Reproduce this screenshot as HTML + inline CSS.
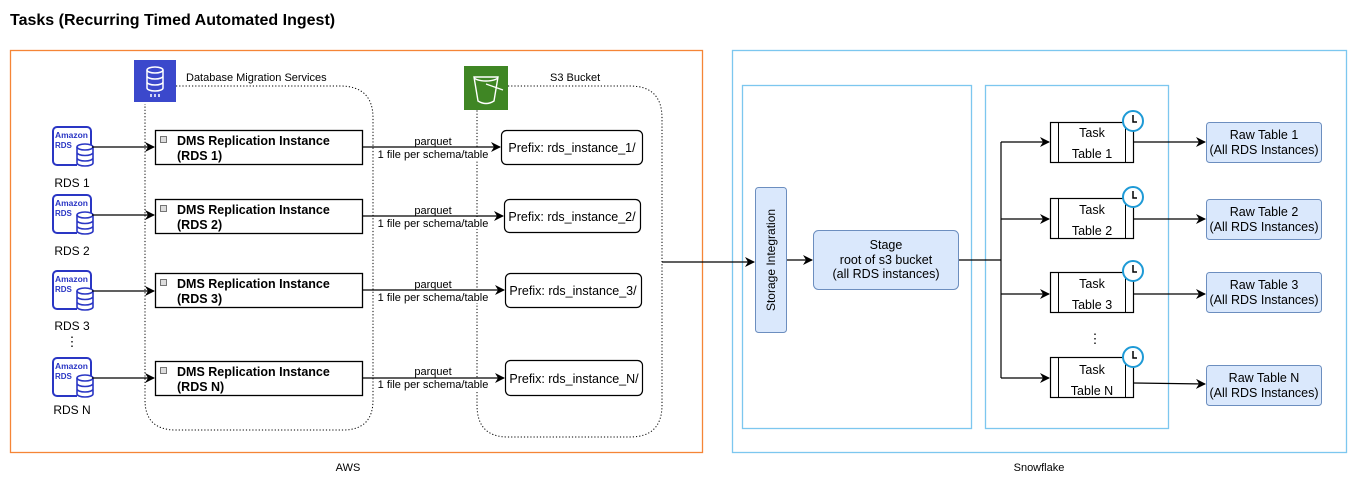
<!DOCTYPE html>
<html><head><meta charset="utf-8"><style>
html,body{margin:0;padding:0;background:#fff;}
svg{display:block;font-family:"Liberation Sans",Arial,sans-serif;}
</style></head><body>
<svg width="1358" height="482" viewBox="0 0 1358 482" xmlns="http://www.w3.org/2000/svg">
<defs>
<marker id="ar" markerWidth="10" markerHeight="10" refX="9" refY="5" orient="auto" markerUnits="userSpaceOnUse">
<path d="M0,0 L10,5 L0,10 L3,5 Z" fill="#000"/></marker>
<g id="rds">
<rect x="1" y="1" width="38" height="38" rx="4" fill="#fff" stroke="#2a36c4" stroke-width="2"/>
<text x="3" y="12" font-size="8" font-weight="bold" fill="#2a36c4" textLength="33" lengthAdjust="spacingAndGlyphs">Amazon</text>
<text x="3" y="22" font-size="8" font-weight="bold" fill="#2a36c4">RDS</text>
<rect x="25" y="19" width="16" height="22" fill="#fff"/>
<ellipse cx="33" cy="21" rx="8" ry="3" fill="#fff" stroke="#2a36c4" stroke-width="1.6"/>
<path d="M25,21 V37 A8,3 0 0 0 41,37 V21 M25,26.5 A8,3 0 0 0 41,26.5 M25,32 A8,3 0 0 0 41,32" fill="none" stroke="#2a36c4" stroke-width="1.6"/>
</g>
<g id="clk">
<circle r="10" fill="#fff" stroke="#1e9ad6" stroke-width="2"/>
<path d="M0,-6 V1 H4" fill="none" stroke="#000" stroke-width="1.5"/>
</g>
<g id="task">
<rect x="0" y="0" width="83" height="40" fill="#fff" stroke="#000" stroke-width="1.2"/>
<line x1="8" y1="0" x2="8" y2="40" stroke="#000"/>
<line x1="75" y1="0" x2="75" y2="40" stroke="#000"/>
</g>
</defs>

<text x="10" y="25" font-size="16" font-weight="bold">Tasks (Recurring Timed Automated Ingest)</text>

<rect x="10.5" y="50.5" width="692" height="402" fill="none" stroke="#f58536" stroke-width="1.3"/>
<text x="348" y="471" font-size="11" text-anchor="middle">AWS</text>
<rect x="732.5" y="50.5" width="614" height="402" fill="none" stroke="#7cc7ef" stroke-width="1.3"/>
<text x="1039" y="471" font-size="11" text-anchor="middle">Snowflake</text>
<rect x="742.5" y="85.5" width="229" height="343" fill="none" stroke="#7cc7ef" stroke-width="1.3"/>
<rect x="985.5" y="85.5" width="183" height="343" fill="none" stroke="#7cc7ef" stroke-width="1.3"/>

<path d="M176,86 H340 Q373,86 373,118 V400 Q373,430 343,430 H176 Q145,430 145,400 V104" fill="none" stroke="#000" stroke-dasharray="1.2,2"/>
<rect x="134" y="60" width="42" height="42" fill="#3b48cc"/>
<g fill="none" stroke="#fff" stroke-width="1.5">
<ellipse cx="155" cy="70" rx="8" ry="3"/>
<path d="M147,70 V88 A8,3 0 0 0 163,88 V70 M147,76 A8,3 0 0 0 163,76 M147,82 A8,3 0 0 0 163,82 M151,94 V97 M155,94 V97 M159,94 V97"/>
</g>
<text x="186" y="81" font-size="11">Database Migration Services</text>

<path d="M508,86 H630 Q662,86 662,118 V405 Q662,437 630,437 H508 Q477,437 477,405 V110" fill="none" stroke="#000" stroke-dasharray="1.2,2"/>
<rect x="464" y="66" width="44" height="44" fill="#3f8624"/>
<path d="M474,77 L478,101 Q486,106 494,101 L498,77 Z M474,77 A12,4 0 0 0 498,77" fill="none" stroke="#fff" stroke-width="1.4"/>
<path d="M486,84 L503,90" stroke="#fff" stroke-width="1.2"/>
<text x="550" y="81" font-size="11">S3 Bucket</text>

<g font-size="12">
<use href="#rds" x="52" y="126"/><text x="72" y="187" text-anchor="middle">RDS 1</text>
<use href="#rds" x="52" y="194"/><text x="72" y="255" text-anchor="middle">RDS 2</text>
<use href="#rds" x="52" y="270"/><text x="72" y="330" text-anchor="middle">RDS 3</text>
<text x="72" y="346" text-anchor="middle" font-size="13">⋮</text>
<use href="#rds" x="52" y="357"/><text x="72" y="414" text-anchor="middle">RDS N</text>
</g>
<g stroke="#000" stroke-width="1.2" marker-end="url(#ar)">
<line x1="92" y1="147" x2="154" y2="147"/>
<line x1="92" y1="215" x2="154" y2="215"/>
<line x1="92" y1="291" x2="154" y2="291"/>
<line x1="92" y1="378" x2="154" y2="378"/>
<line x1="362" y1="147" x2="500" y2="147"/>
<line x1="362" y1="216" x2="503" y2="216"/>
<line x1="362" y1="290" x2="504" y2="290"/>
<line x1="362" y1="378" x2="504" y2="378"/>
</g>
<g>
<rect x="155.5" y="130.5" width="207" height="34" fill="#fff" stroke="#000" stroke-width="1.3"/>
<rect x="155.5" y="199.5" width="207" height="34" fill="#fff" stroke="#000" stroke-width="1.3"/>
<rect x="155.5" y="273.5" width="207" height="34" fill="#fff" stroke="#000" stroke-width="1.3"/>
<rect x="155.5" y="361.5" width="207" height="34" fill="#fff" stroke="#000" stroke-width="1.3"/>
</g>
<g font-size="12.5" font-weight="bold">
<text x="177" y="145">DMS Replication Instance</text><text x="177" y="160">(RDS 1)</text>
<text x="177" y="214">DMS Replication Instance</text><text x="177" y="229">(RDS 2)</text>
<text x="177" y="288">DMS Replication Instance</text><text x="177" y="303">(RDS 3)</text>
<text x="177" y="376">DMS Replication Instance</text><text x="177" y="391">(RDS N)</text>
</g>
<g fill="#ddd" stroke="#555" stroke-width="0.8">
<rect x="160.5" y="136.5" width="6" height="6"/><rect x="160.5" y="205.5" width="6" height="6"/>
<rect x="160.5" y="279.5" width="6" height="6"/><rect x="160.5" y="367.5" width="6" height="6"/>
</g>
<g font-size="11" text-anchor="middle">
<rect x="376" y="148" width="114" height="12" fill="#fff"/>
<rect x="376" y="217" width="114" height="12" fill="#fff"/>
<rect x="376" y="291" width="114" height="12" fill="#fff"/>
<rect x="376" y="379" width="114" height="12" fill="#fff"/>
<text x="433" y="145">parquet</text><text x="433" y="158">1 file per schema/table</text>
<text x="433" y="214">parquet</text><text x="433" y="227">1 file per schema/table</text>
<text x="433" y="288">parquet</text><text x="433" y="301">1 file per schema/table</text>
<text x="433" y="375">parquet</text><text x="433" y="388">1 file per schema/table</text>
</g>
<g fill="#fff" stroke="#000" stroke-width="1.2">
<rect x="501.5" y="130.5" width="141" height="34" rx="5"/>
<rect x="504.5" y="199.5" width="136" height="33" rx="5"/>
<rect x="505.5" y="273.5" width="136" height="34" rx="5"/>
<rect x="505.5" y="360.5" width="137" height="35" rx="5"/>
</g>
<g font-size="12.5" text-anchor="middle">
<text x="572" y="152">Prefix: rds_instance_1/</text>
<text x="572" y="221">Prefix: rds_instance_2/</text>
<text x="573" y="295">Prefix: rds_instance_3/</text>
<text x="574" y="383">Prefix: rds_instance_N/</text>
</g>

<g stroke="#000" stroke-width="1.2" fill="none">
<line x1="662" y1="262" x2="754" y2="262" marker-end="url(#ar)"/>
<line x1="786" y1="260" x2="812" y2="260" marker-end="url(#ar)"/>
<line x1="958" y1="260" x2="1001" y2="260"/>
<line x1="1001" y1="142" x2="1001" y2="378"/>
<line x1="1001" y1="142" x2="1049" y2="142" marker-end="url(#ar)"/>
<line x1="1001" y1="219" x2="1049" y2="219" marker-end="url(#ar)"/>
<line x1="1001" y1="294" x2="1049" y2="294" marker-end="url(#ar)"/>
<line x1="1001" y1="378" x2="1049" y2="378" marker-end="url(#ar)"/>
<line x1="1133" y1="142" x2="1205" y2="142" marker-end="url(#ar)"/>
<line x1="1133" y1="219" x2="1205" y2="219" marker-end="url(#ar)"/>
<line x1="1133" y1="294" x2="1205" y2="294" marker-end="url(#ar)"/>
<line x1="1133" y1="383" x2="1205" y2="384" marker-end="url(#ar)"/>
</g>
<rect x="755.5" y="187.5" width="31" height="145" rx="3" fill="#dae8fc" stroke="#6c8ebf"/>
<text transform="translate(775,260) rotate(-90)" font-size="12" text-anchor="middle">Storage Integration</text>
<rect x="813.5" y="230.5" width="145" height="59" rx="5" fill="#dae8fc" stroke="#6c8ebf"/>
<g font-size="12.5" text-anchor="middle">
<text x="886" y="249">Stage</text><text x="886" y="264">root of s3 bucket</text><text x="886" y="278">(all RDS instances)</text>
</g>
<use href="#task" x="1050.5" y="122.5"/><use href="#task" x="1050.5" y="198.5"/>
<use href="#task" x="1050.5" y="272.5"/><use href="#task" x="1050.5" y="357.5"/>
<g font-size="12.5" text-anchor="middle">
<text x="1092" y="137">Task</text><text x="1092" y="158">Table 1</text>
<text x="1092" y="214">Task</text><text x="1092" y="235">Table 2</text>
<text x="1092" y="288">Task</text><text x="1092" y="309">Table 3</text>
<text x="1092" y="374">Task</text><text x="1092" y="395">Table N</text>
<text x="1095" y="343" font-size="13">⋮</text>
</g>
<use href="#clk" x="1133" y="121"/><use href="#clk" x="1133" y="197"/>
<use href="#clk" x="1133" y="271"/><use href="#clk" x="1133" y="357"/>
<g fill="#dae8fc" stroke="#6c8ebf">
<rect x="1206.5" y="122.5" width="115" height="40" rx="3"/>
<rect x="1206.5" y="199.5" width="115" height="40" rx="3"/>
<rect x="1206.5" y="272.5" width="115" height="40" rx="3"/>
<rect x="1206.5" y="365.5" width="115" height="40" rx="3"/>
</g>
<g font-size="12.5" text-anchor="middle">
<text x="1264" y="139">Raw Table 1</text><text x="1264" y="154">(All RDS Instances)</text>
<text x="1264" y="216">Raw Table 2</text><text x="1264" y="231">(All RDS Instances)</text>
<text x="1264" y="289">Raw Table 3</text><text x="1264" y="304">(All RDS Instances)</text>
<text x="1264" y="382">Raw Table N</text><text x="1264" y="397">(All RDS Instances)</text>
</g>
</svg>
</body></html>
